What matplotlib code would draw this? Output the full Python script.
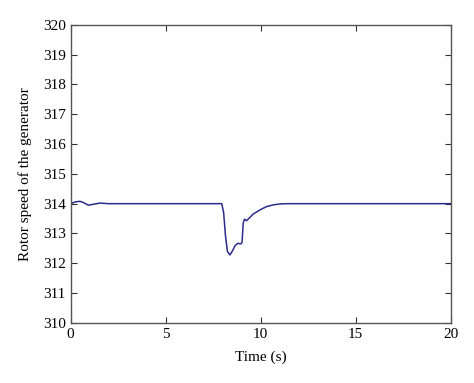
import numpy as np
import matplotlib
matplotlib.use("Agg")
import matplotlib.pyplot as plt

# Значения
t = [0.0, 0.25, 0.49, 0.7, 0.93, 1.2, 1.54, 2.0, 3.0, 5.0, 7.0, 7.95, 8.05,
     8.15, 8.25, 8.38, 8.5, 8.66, 8.8, 8.95, 9.02, 9.08, 9.15, 9.26, 9.4,
     9.6, 9.96, 10.3, 10.66, 11.0, 11.37, 12.0, 15.0, 20.0]
speed = [314.0, 314.06, 314.08, 314.03, 313.95, 313.98, 314.02, 314.0, 314.0,
         314.0, 314.0, 314.0, 313.7, 312.9, 312.4, 312.28, 312.4, 312.6,
         312.67, 312.65, 312.7, 313.35, 313.48, 313.43, 313.52, 313.65,
         313.79, 313.9, 313.96, 313.99, 314.0, 314.0, 314.0, 314.0]

plt.rcParams["font.family"] = ["Liberation Serif", "DejaVu Serif"]

fig = plt.figure(figsize=(4.74, 3.83), dpi=100)
ax = fig.add_axes([0.149, 0.157, 0.802, 0.778])
ax.plot(t, speed, color="#2b2b8c", linewidth=1.1)

ax.set_xlim(0, 20)
ax.set_ylim(310, 320)
ax.set_xticks([0, 5, 10, 15, 20])
ax.set_yticks(np.arange(310, 321, 1))
ax.tick_params(direction="in", top=True, right=True, labelsize=11,
               length=4, width=0.8, colors="#333333", labelcolor="black")
for s in ax.spines.values():
    s.set_color("#555555")
    s.set_linewidth(1.0)
ax.set_xlabel("Time (s)", fontsize=11, labelpad=7)
ax.set_ylabel("Rotor speed of the generator", fontsize=11, labelpad=8)

fig.savefig("out.png", dpi=100)
